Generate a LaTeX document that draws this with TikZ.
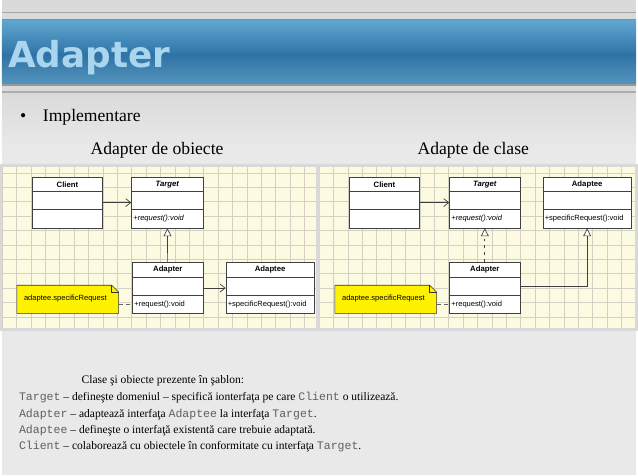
\documentclass[tikz,border=0pt]{standalone}
\usepackage{fontspec}
\setmainfont{Liberation Serif}
\setsansfont{Liberation Sans}
\setmonofont{Liberation Mono}
\newfontfamily\headfont{DejaVu Sans}
\usetikzlibrary{arrows.meta,positioning}

\definecolor{slidegray}{HTML}{E9E9E9}
\definecolor{bandgray}{HTML}{DADADA}
\definecolor{bluelight}{HTML}{5EA6D0}
\definecolor{bluedark}{HTML}{2F73A6}
\definecolor{titleblue}{HTML}{A9D5EE}
\definecolor{gridcream}{HTML}{FCFBE2}
\definecolor{gridline}{HTML}{D2D1C4}
\definecolor{codegray}{HTML}{606060}

\tikzset{
	classbox/.style={draw=black!75, fill=white, line width=0.7pt, minimum height=51pt, inner sep=0pt},
	classtitle/.style={font=\sffamily\bfseries\fontsize{7.8}{9}\selectfont, inner sep=0pt},
	classop/.style={font=\sffamily\fontsize{7.6}{9}\selectfont, inner sep=0pt},
	notetext/.style={font=\sffamily\fontsize{7.6}{9}\selectfont, inner sep=0pt},
	assoc/.style={draw=black!75, line width=0.7pt, -{Straight Barb[length=5pt,width=8pt]}},
	inherit/.style={draw=black!75, line width=0.7pt, -{Triangle[open,length=8pt,width=8pt,fill=white]}},
	notelink/.style={draw=black!60, line width=0.7pt, dash pattern=on 4pt off 3pt},
	slidetext/.style={font=\fontsize{17.7}{20}\selectfont, inner sep=0pt, anchor=base west},
	bodytext/.style={font=\fontsize{11.6}{14}\selectfont, inner sep=0pt, anchor=base west},
}

% class box: name, x, y, width, title, operation
\newcommand{\classbox}[6]{
	\node[classbox, minimum width=#4, anchor=north west] (#1) at (#2, #3){};
	\draw[black!75, line width=0.7pt] ([yshift=-15pt]#1.north west) -- ([yshift=-15pt]#1.north east);
	\draw[black!75, line width=0.7pt] ([yshift=19pt]#1.south west) -- ([yshift=19pt]#1.south east);
	\node[classtitle](#1-t) at ([yshift=-7.5pt]#1.north){#5};
	\node[classop, anchor=west](#1-m) at ([xshift=2pt, yshift=9.5pt]#1.south west){#6};
}

% note: name, x, y, text
\newcommand{\notebox}[4]{
	\node[minimum width=102pt, minimum height=28pt, inner sep=0pt, anchor=north west] (#1) at (#2, #3){};
	\draw[black!80, fill=yellow, line width=0.6pt] (#1.south west) -- (#1.north west) -- ([xshift=-7pt]#1.north east) -- ([yshift=-7pt]#1.north east) -- (#1.south east) -- cycle;
	\draw[black!80, line width=0.6pt] ([xshift=-7pt]#1.north east) -- ([xshift=-7pt, yshift=-7pt]#1.north east) -- ([yshift=-7pt]#1.north east);
	\node[notetext, anchor=west](#1-t) at ([xshift=7pt, yshift=1pt]#1.west){#4};
}

\begin{document}
\begin{tikzpicture}[x=1pt, y=-1pt]
	% Slide background and header:
	\fill[slidegray] (0, 0) rectangle (638, 478);
	\shade[top color=bandgray, bottom color=slidegray] (0, 93) rectangle (638, 150);
	\fill[bandgray] (0, 0) rectangle (638, 13);
	\fill[black!35] (0, 12) rectangle (638, 13.5);
	\fill[bandgray] (0, 13.5) rectangle (638, 20);
	\fill[black!45] (0, 19.5) rectangle (638, 21);
	\shade[top color=bluelight, bottom color=bluedark] (0, 21) rectangle (638, 55);
	\shade[top color=bluedark, bottom color=bluelight!90!black] (0, 55) rectangle (638, 85);
	\fill[black!40] (0, 85) rectangle (638, 86.5);
	\fill[bandgray] (0, 86.5) rectangle (638, 92);
	\fill[black!32] (0, 92) rectangle (638, 93.5);
	\node[font=\headfont\bfseries\fontsize{36}{40}\selectfont, text=titleblue, inner sep=0pt, anchor=base west] (title) at (6, 68){Adapter};

	% Bullet and captions:
	\node[slidetext] (dot) at (18, 122){•};
	\node[slidetext] (impl) at (41, 122){Implementare};
	\node[slidetext] (capobj) at (89, 155){Adapter de obiecte};
	\node[slidetext] (capcls) at (418, 155){Adapte de clase};

	% Diagram panels:
	\foreach \px/\qx in {0/316, 320/637}{
		\fill[black!25] (\px-1, 166.5) rectangle (\qx+1.5, 332);
		\fill[black!15] (\px-2, 165.5) rectangle (\qx+3, 333.5);
		\fill[gridcream] (\px, 168) rectangle (\qx, 330);
		\begin{scope}
			\clip (\px, 168) rectangle (\qx, 330);
			\draw[gridline, line width=0.6pt, xstep=14.5pt, ystep=14.5pt] (\px-20, 150) grid (\qx+20, 340);
		\end{scope}
	}

	% Adapter de obiecte:
	\classbox{client}{30}{178}{71pt}{Client}{}
	\classbox{target}{130}{178}{72pt}{\itshape Target}{\itshape +request():void}
	\classbox{adapter}{131}{264}{71pt}{Adapter}{+request():void}
	\classbox{adaptee}{225}{264}{89pt}{Adaptee}{+specificRequest():void}
	\notebox{note}{15}{287}{adaptee.specificRequest}
	\draw[assoc] (client) -- (target);
	\draw[inherit] (adapter) -- (target);
	\draw[assoc] (adapter) -- (adaptee);
	\draw[notelink] (note.east |- adapter-m.west) -- (adapter.west |- adapter-m.west);

	% Adapte de clase:
	\classbox{clientc}{349}{178}{71pt}{Client}{}
	\classbox{targetc}{450}{178}{71pt}{\itshape Target}{\itshape +request():void}
	\classbox{adapteec}{544}{178}{89pt}{Adaptee}{+specificRequest():void}
	\classbox{adapterc}{450}{264}{71pt}{Adapter}{+request():void}
	\notebox{notec}{335}{287}{adaptee.specificRequest}
	\draw[assoc] (clientc) -- (targetc);
	\draw[inherit, dash pattern=on 3pt off 4pt] (adapterc) -- (targetc);
	\draw[inherit] ([yshift=2pt]adapterc.east) -| (adapteec.south);
	\draw[notelink] (notec.east |- adapterc-m.west) -- (adapterc.west |- adapterc-m.west);

	% Participants:
	\node[bodytext] (lead) at (80, 386){Clase şi obiecte prezente în şablon:};
	\node[bodytext] (ltarget) at (17, 403){\textcolor{codegray}{\ttfamily Target} – defineşte domeniul – specifică ionterfaţa pe care \textcolor{codegray}{\ttfamily Client} o utilizează.};
	\node[bodytext] (ladapter) at (17, 420){\textcolor{codegray}{\ttfamily Adapter} – adaptează interfaţa \textcolor{codegray}{\ttfamily Adaptee} la interfaţa \textcolor{codegray}{\ttfamily Target}.};
	\node[bodytext] (ladaptee) at (17, 436){\textcolor{codegray}{\ttfamily Adaptee} – defineşte o interfaţă existentă care trebuie adaptată.};
	\node[bodytext] (lclient) at (17, 452){\textcolor{codegray}{\ttfamily Client} – colaborează cu obiectele în conformitate cu interfaţa \textcolor{codegray}{\ttfamily Target}.};
\end{tikzpicture}
\end{document}
